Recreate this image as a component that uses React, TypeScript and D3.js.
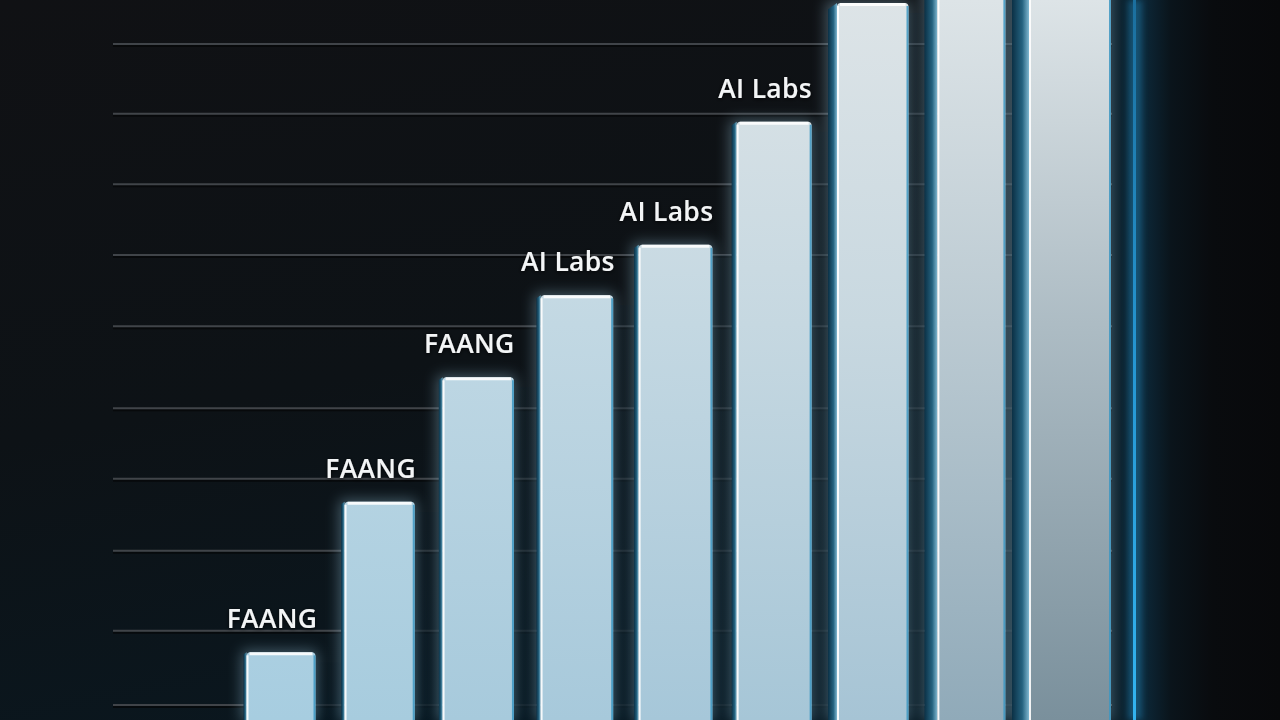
import React from "react";
import * as d3 from "d3";

const categories = ["S1", "S2", "S3", "S4", "S5", "S6", "S7", "S8", "S9"];
const values = [9.4, 30.3, 47.6, 59.0, 66.0, 83.1, 99.6, 110, 118];
const labels = ["FAANG", "FAANG", "FAANG", "AI Labs", "AI Labs", "AI Labs", "", "", ""];
const gridValues = [93.9, 84.2, 74.4, 64.6, 54.7, 43.3, 33.5, 23.5, 12.4, 2.1];

const W = 1280;
const H = 720;

export default function App() {
  const y = d3.scaleLinear().domain([0, 100]).range([H, 0]);
  const xc = d3.scalePoint<string>().domain(categories).range([281, 1070]);
  const wScale = d3.scaleLinear().domain([0, 5, 7, 8]).range([69, 75, 68, 82]);
  const depth = d3.scaleLinear().domain([0, 5, 8]).range([3, 5, 17]);
  const bottomCol = d3
    .scaleLinear<string>()
    .domain([0, 6, 8])
    .range(["#a7cde0", "#a6c4d5", "#7a909c"]);
  const midCol = d3
    .scaleLinear<string>()
    .domain([0, 6, 8])
    .range(["#bcd8e6", "#c8d8e0", "#adbcc4"]);

  const gridX0 = 113;
  const gridX1 = 1112;

  const bars = categories.map((c, i) => {
    const cx = xc(c) as number;
    const w = wScale(i);
    const x0 = cx - w / 2;
    const top = Math.max(y(values[i]), -20);
    return { c, i, cx, w, x0, top, d: depth(i), label: labels[i] };
  });

  const facePath = (x0: number, w: number, top: number, r: number) => {
    const p = d3.path();
    p.moveTo(x0, H + 2);
    p.lineTo(x0, top + r);
    p.quadraticCurveTo(x0, top, x0 + r, top);
    p.lineTo(x0 + w - r, top);
    p.quadraticCurveTo(x0 + w, top, x0 + w, top + r);
    p.lineTo(x0 + w, H + 2);
    p.closePath();
    return p.toString();
  };

  return (
    <div style={{ position: "fixed", left: 0, top: 0, width: W, height: H, overflow: "hidden" }}>
      <svg width={W} height={H} viewBox={`0 0 ${W} ${H}`} style={{ display: "block" }}>
        <defs>
          <linearGradient id="bg" x1="0" y1="0" x2="0.35" y2="1">
            <stop offset="0" stopColor="#101114" />
            <stop offset="0.55" stopColor="#0d1216" />
            <stop offset="1" stopColor="#0a171f" />
          </linearGradient>
          <linearGradient id="rightBg" gradientUnits="userSpaceOnUse" x1="1112" y1="0" x2="1280" y2="0">
            <stop offset="0" stopColor="#081822" />
            <stop offset="0.12" stopColor="#0b2635" />
            <stop offset="0.2" stopColor="#0c2636" />
            <stop offset="0.35" stopColor="#0a141b" />
            <stop offset="0.6" stopColor="#090b0e" />
            <stop offset="1" stopColor="#08090b" />
          </linearGradient>
          <linearGradient id="blueLine" x1="0" y1="0" x2="0" y2="1">
            <stop offset="0" stopColor="#1b6f9e" />
            <stop offset="0.5" stopColor="#2596d2" />
            <stop offset="1" stopColor="#33b4f0" />
          </linearGradient>
          <linearGradient id="gapShade" x1="0" y1="0" x2="0" y2="1">
            <stop offset="0" stopColor="#06121a" stopOpacity="0.35" />
            <stop offset="1" stopColor="#03141e" stopOpacity="0.85" />
          </linearGradient>
          {bars.map((b) => (
            <linearGradient
              key={b.c}
              id={`face${b.i}`}
              gradientUnits="userSpaceOnUse"
              x1="0"
              y1="0"
              x2="0"
              y2={H}
            >
              <stop offset="0" stopColor="#dde4e7" />
              <stop offset="0.45" stopColor={midCol(b.i)} />
              <stop offset="1" stopColor={bottomCol(b.i)} />
            </linearGradient>
          ))}
          <linearGradient id="side" x1="0" y1="0" x2="1" y2="0">
            <stop offset="0" stopColor="#0b3045" />
            <stop offset="0.6" stopColor="#24627f" />
            <stop offset="1" stopColor="#7fb7d0" />
          </linearGradient>
          <filter id="glow" x="-50%" y="-50%" width="200%" height="200%">
            <feGaussianBlur stdDeviation="7" />
          </filter>
          <filter id="softBlur" x="-50%" y="-50%" width="200%" height="200%">
            <feGaussianBlur stdDeviation="3" />
          </filter>
          <filter id="txtShadow" x="-20%" y="-40%" width="140%" height="180%">
            <feDropShadow dx="0" dy="1" stdDeviation="2" floodColor="#000000" floodOpacity="0.8" />
          </filter>
        </defs>

        <rect x={0} y={0} width={W} height={H} fill="url(#bg)" />

        {/* gridlines */}
        <g>
          {gridValues.map((v, k) => (
            <g key={k}>
              <line
                x1={gridX0}
                x2={gridX1}
                y1={y(v) + 2}
                y2={y(v) + 2}
                stroke="#050607"
                strokeWidth={2}
                opacity={0.7}
              />
              <line
                x1={gridX0}
                x2={gridX1}
                y1={y(v)}
                y2={y(v)}
                stroke="#404449"
                strokeWidth={2}
              />
            </g>
          ))}
        </g>

        {/* dark shading to the right of each bar */}
        <g>
          {bars.slice(0, 8).map((b) => {
            const next = bars[b.i + 1];
            const gx = b.x0 + b.w;
            const gw = next.x0 - next.d - gx;
            return (
              <rect
                key={b.c}
                x={gx}
                y={b.top + 10}
                width={Math.max(gw, 0)}
                height={H - b.top}
                fill="url(#gapShade)"
              />
            );
          })}
        </g>

        {/* right side dark area */}
        <rect x={1112} y={0} width={W - 1112} height={H} fill="url(#rightBg)" />
        <rect x={1128} y={0} width={14} height={H} fill="#2aa6e6" opacity={0.35} filter="url(#softBlur)" />
        <rect x={1133} y={0} width={3} height={H} fill="url(#blueLine)" />

        {/* bar glow */}
        <g>
          {bars.map((b) => (
            <path
              key={b.c}
              d={facePath(b.x0 - b.d - 2, b.w + b.d + 4, b.top - 2, 4)}
              fill="#a9dcf5"
              opacity={0.35}
              filter="url(#glow)"
            />
          ))}
        </g>

        {/* bars */}
        <g>
          {bars.map((b) => (
            <g key={b.c}>
              <path
                d={`M${b.x0 - b.d},${H + 2}L${b.x0 - b.d},${b.top + b.d * 0.7}L${b.x0},${b.top}L${b.x0},${H + 2}Z`}
                fill="url(#side)"
              />
              <path d={facePath(b.x0, b.w, b.top, 4)} fill={`url(#face${b.i})`} />
              <line
                x1={b.x0 + 1}
                x2={b.x0 + 1}
                y1={b.top + 3}
                y2={H}
                stroke="#ffffff"
                strokeWidth={2}
                opacity={0.9}
              />
              <line
                x1={b.x0 + b.w - 1}
                x2={b.x0 + b.w - 1}
                y1={b.top + 3}
                y2={H}
                stroke="#3d97c2"
                strokeWidth={2}
                opacity={0.85}
              />
              <path
                d={`M${b.x0 + 3},${b.top + 1.5}L${b.x0 + b.w - 3},${b.top + 1.5}`}
                stroke="#ffffff"
                strokeWidth={3}
                opacity={0.9}
              />
            </g>
          ))}
        </g>

        {/* labels */}
        <g>
          {bars
            .filter((b) => b.label)
            .map((b) => (
              <text
                key={b.c}
                x={b.cx - 9}
                y={b.top - 24}
                textAnchor="middle"
                fontFamily="'Open Sans', 'Noto Sans', sans-serif"
                fontWeight={600}
                fontSize={26.5}
                letterSpacing={0.3}
                fill="#f3f5f6"
                filter="url(#txtShadow)"
              >
                {b.label}
              </text>
            ))}
        </g>
      </svg>
    </div>
  );
}
